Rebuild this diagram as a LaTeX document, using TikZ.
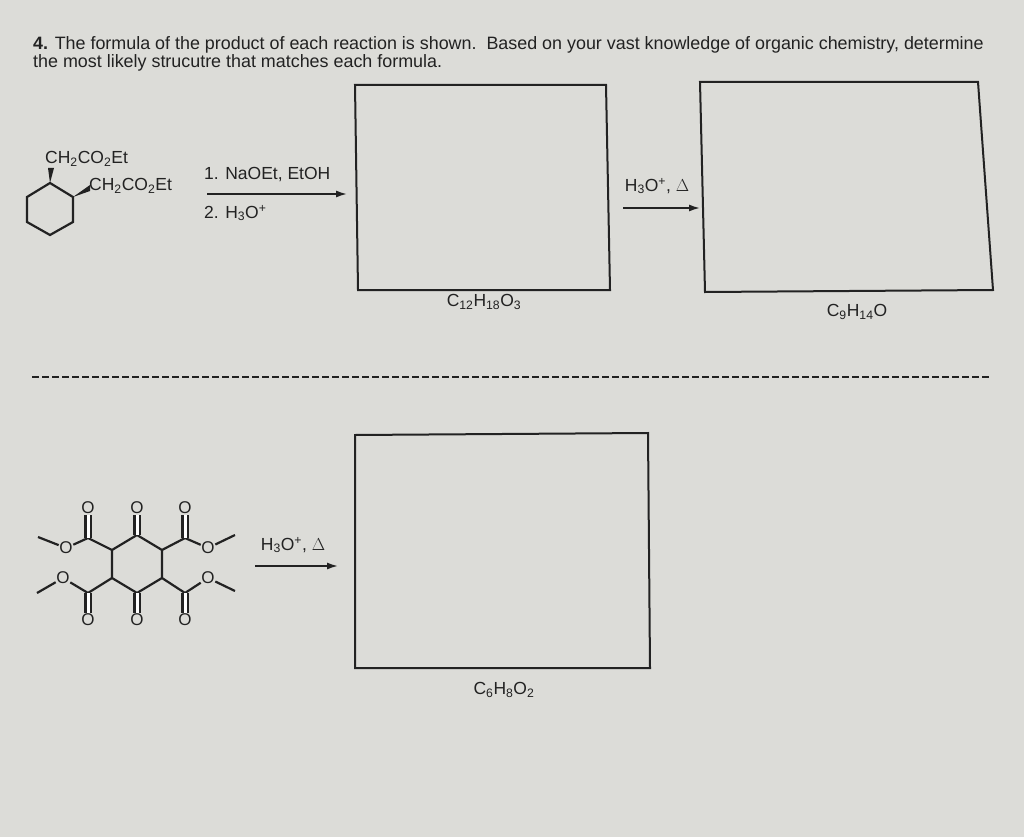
\documentclass[tikz,border=0pt]{standalone}
\usepackage{fontspec}
\setmainfont{Liberation Sans}
\usetikzlibrary{arrows.meta,calc}
\definecolor{paper}{HTML}{DCDCD8}
\definecolor{ink}{HTML}{222222}
\newcommand{\mysub}[1]{\textsubscript{#1}}
\newcommand{\spp}{\textsuperscript{+}}
\begin{document}
\begin{tikzpicture}[x=1pt,y=-1pt,
  bond/.style={ink,line width=2.2pt},
  box/.style={draw=ink,line width=2pt},
  lbl/.style={inner sep=0pt,font=\fontsize{17.5}{19}\selectfont,text=ink},
  atom/.style={inner sep=0.5pt,font=\fontsize{17}{18}\selectfont,text=ink,fill=paper},
  rxn/.style={ink,line width=1.6pt,-{Latex[length=11pt,width=7pt]}}]
\fill[paper] (0,0) rectangle (1024,837);
\useasboundingbox (0,0) rectangle (1024,837);
% title
\node[lbl,anchor=west,align=left,font=\fontsize{17.9}{15}\selectfont] (title) at (33,54)
 {\textbf{4.} The formula of the product of each reaction is shown.\ \ Based on your vast knowledge of organic chemistry, determine\\the most likely strucutre that matches each formula.};
% top-left molecule
\coordinate (A) at (50,183); \coordinate (B) at (73,197); \coordinate (C) at (73,222);
\coordinate (D) at (50,235); \coordinate (E) at (27,222); \coordinate (F) at (27,197);
\draw[bond] (A)--(B)--(C)--(D)--(E)--(F)--cycle;
\coordinate (Aw) at (51,168); \coordinate (Bw) at (90,188);
\fill[ink] (A) -- ($(Aw)+(-3,0)$) -- ($(Aw)+(3,0)$) -- cycle;
\fill[ink] (B) -- ($(Bw)+(0,-3)$) -- ($(Bw)+(0,3)$) -- cycle;
\node[lbl,anchor=west] (s1) at (45,159) {CH\mysub{2}CO\mysub{2}Et};
\node[lbl,anchor=west] (s2) at (89,186) {CH\mysub{2}CO\mysub{2}Et};
% arrow 1
\coordinate (a1s) at (207,194); \coordinate (a1e) at (347,194);
\draw[rxn] (a1s) -- (a1e);
\node[lbl,anchor=west] (r1) at (204,175) {1. NaOEt, EtOH};
\node[lbl,anchor=west] (r2) at (204,213) {2. H\mysub{3}O\spp};
% boxes
\draw[box] (355,85) -- (606,85) -- (610,290) -- (358,290) -- cycle;
\draw[box] (700,82) -- (978,82) -- (993,290) -- (705,292) -- cycle;
\draw[box] (355,435) -- (648,433) -- (650,668) -- (355,668) -- cycle;
\node[lbl] (f1) at (484,302) {C\mysub{12}H\mysub{18}O\mysub{3}};
\node[lbl] (f2) at (857,312) {C\mysub{9}H\mysub{14}O};
\node[lbl] (f3) at (504,690) {C\mysub{6}H\mysub{8}O\mysub{2}};
% arrow 2
\coordinate (a2s) at (623,208); \coordinate (a2e) at (700,208);
\draw[rxn] (a2s) -- (a2e);
\node[lbl] (r3) at (657,186) {H\mysub{3}O\spp, $\Delta$};
% dashed line
\draw[ink,line width=1.6pt,dash pattern=on 7pt off 3pt] (32,377) -- (990,377);
% bottom molecule
\coordinate (R1) at (137,535); \coordinate (R2) at (162,550); \coordinate (R3) at (162,578);
\coordinate (R4) at (137,593); \coordinate (R5) at (112,578); \coordinate (R6) at (112,550);
\draw[bond] (R1)--(R2)--(R3)--(R4)--(R5)--(R6)--cycle;
\node[atom] (Ot) at (137,508) {O};
\node[atom] (Ob) at (137,620) {O};
\draw[bond,double,double distance=3pt] (R1) -- (Ot);
\draw[bond,double,double distance=3pt] (R4) -- (Ob);
% upper-left ester
\coordinate (C1) at (88,538); \node[atom] (O1a) at (88,508) {O};
\node[atom] (O1b) at (66,548) {O}; \coordinate (M1) at (38,537);
\draw[bond] (R6)--(C1)--(O1b)--(M1);
\draw[bond,double,double distance=3pt] (C1)--(O1a);
% upper-right ester
\coordinate (C2) at (185,538); \node[atom] (O2a) at (185,508) {O};
\node[atom] (O2b) at (208,548) {O}; \coordinate (M2) at (235,535);
\draw[bond] (R2)--(C2)--(O2b)--(M2);
\draw[bond,double,double distance=3pt] (C2)--(O2a);
% lower-left ester
\coordinate (C3) at (88,593); \node[atom] (O3a) at (88,620) {O};
\node[atom] (O3b) at (63,578) {O}; \coordinate (M3) at (37,593);
\draw[bond] (R5)--(C3)--(O3b)--(M3);
\draw[bond,double,double distance=3pt] (C3)--(O3a);
% lower-right ester
\coordinate (C4) at (185,593); \node[atom] (O4a) at (185,620) {O};
\node[atom] (O4b) at (208,578) {O}; \coordinate (M4) at (235,591);
\draw[bond] (R3)--(C4)--(O4b)--(M4);
\draw[bond,double,double distance=3pt] (C4)--(O4a);
% arrow 3
\coordinate (a3s) at (255,566); \coordinate (a3e) at (338,566);
\draw[rxn] (a3s) -- (a3e);
\node[lbl] (r4) at (293,545) {H\mysub{3}O\spp, $\Delta$};
\end{tikzpicture}
\end{document}
